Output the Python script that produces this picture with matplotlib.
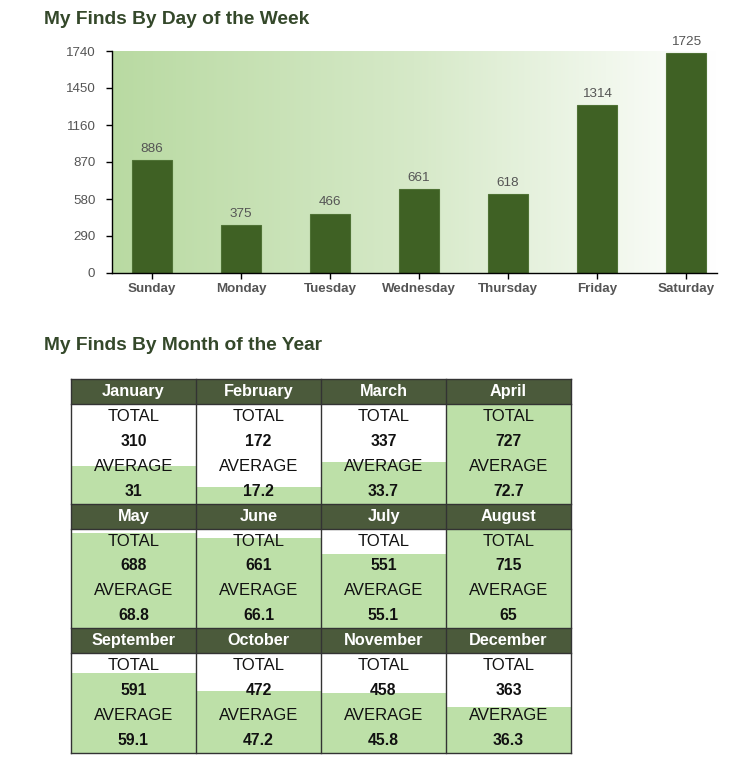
import numpy as np
import matplotlib
matplotlib.use("Agg")
import matplotlib.pyplot as plt
from matplotlib.colors import LinearSegmentedColormap
from matplotlib.patches import Rectangle

plt.rcParams['font.family'] = ['Liberation Sans', 'DejaVu Sans']

# data
days = ['Sunday', 'Monday', 'Tuesday', 'Wednesday', 'Thursday', 'Friday', 'Saturday']
day_finds = [886, 375, 466, 661, 618, 1314, 1725]
y_ticks = [0, 290, 580, 870, 1160, 1450, 1740]

months = ['January', 'February', 'March', 'April', 'May', 'June',
          'July', 'August', 'September', 'October', 'November', 'December']
month_totals = [310, 172, 337, 727, 688, 661, 551, 715, 591, 472, 458, 363]
month_avgs = ['31', '17.2', '33.7', '72.7', '68.8', '66.1',
              '55.1', '65', '59.1', '47.2', '45.8', '36.3']

# colours
bar_color = '#3f6124'
title_color = '#34482a'
header_color = '#4b5a3b'
fill_color = '#bde0a8'
text_gray = '#555555'

W, H = 747, 782
fig = plt.figure(figsize=(W / 100, H / 100), dpi=100)

def px_axes(x0, y0, x1, y1):
    # pixel box (top-left origin) -> figure axes
    return fig.add_axes([x0 / W, 1 - y1 / H, (x1 - x0) / W, (y1 - y0) / H])

# ---- bar chart ----
fig.text(44 / W, 1 - 19 / H, 'My Finds By Day of the Week', fontsize=13.8,
         fontweight='bold', color=title_color, va='center', ha='left')

ax = px_axes(112, 51, 717, 273)
x = np.arange(len(days))
ax.set_xlim(-0.45, 6.35)
ax.set_ylim(0, 1740)

grad = LinearSegmentedColormap.from_list('g', ['#b9daa2', '#d6e9c8', '#ffffff'])
ax.imshow(np.linspace(0, 1, 256).reshape(1, -1), cmap=grad, aspect='auto',
          extent=[-0.45, 6.35, 0, 1740], zorder=0)

bars = ax.bar(x, day_finds, width=0.45, color=bar_color, edgecolor='#4f7235',
              linewidth=0.8, zorder=2)
for b, v in zip(bars, day_finds):
    ax.text(b.get_x() + b.get_width() / 2, v + 40, str(v), ha='center',
            va='bottom', fontsize=9.7, color=text_gray)

ax.set_xticks(x)
ax.set_xticklabels(days, fontsize=9.6, fontweight='bold', color=text_gray)
ax.set_yticks(y_ticks)
ax.set_yticklabels([str(t) for t in y_ticks], fontsize=9.6, color=text_gray)
ax.tick_params(axis='both', length=4, width=1, color='black', pad=3)
ax.tick_params(axis='y', pad=8)
for s in ['top', 'right']:
    ax.spines[s].set_visible(False)
for s in ['left', 'bottom']:
    ax.spines[s].set_color('black')
    ax.spines[s].set_linewidth(1)

# ---- month grid ----
fig.text(44 / W, 1 - 346 / H, 'My Finds By Month of the Year', fontsize=13.8,
         fontweight='bold', color=title_color, va='center', ha='left')

tx = px_axes(71, 379, 571, 753)
tx.set_xlim(0, 4)
tx.set_ylim(15, 0)
tx.axis('off')

lo, hi = 62, 720  # fill scale for the body cells
for i, m in enumerate(months):
    c = i % 4
    r0 = (i // 4) * 5
    tx.add_patch(Rectangle((c, r0), 1, 1, facecolor=header_color, edgecolor='none'))
    frac = min(max((month_totals[i] - lo) / (hi - lo), 0), 1)
    tx.add_patch(Rectangle((c, r0 + 5 - 4 * frac), 1, 4 * frac,
                           facecolor=fill_color, edgecolor='none'))
    tx.text(c + 0.5, r0 + 0.5, m, ha='center', va='center', fontsize=11.7,
            fontweight='bold', color='white')
    tx.text(c + 0.5, r0 + 1.5, 'TOTAL', ha='center', va='center', fontsize=12,
            color='#111111')
    tx.text(c + 0.5, r0 + 2.5, str(month_totals[i]), ha='center', va='center',
            fontsize=11.3, fontweight='bold', color='#111111')
    tx.text(c + 0.5, r0 + 3.5, 'AVERAGE', ha='center', va='center', fontsize=12,
            color='#111111')
    tx.text(c + 0.5, r0 + 4.5, month_avgs[i], ha='center', va='center',
            fontsize=11.3, fontweight='bold', color='#111111')

for c in range(5):
    tx.plot([c, c], [0, 15], color='#333333', lw=1, clip_on=False)
for r in [0, 1, 5, 6, 10, 11, 15]:
    tx.plot([0, 4], [r, r], color='#333333', lw=1, clip_on=False)

fig.savefig('out.png', dpi=100)
